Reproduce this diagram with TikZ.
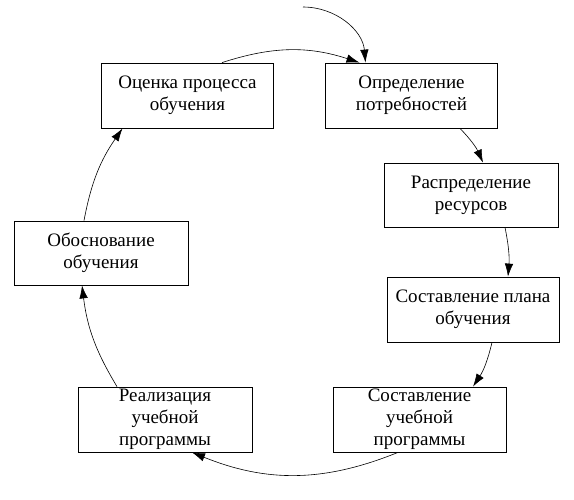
\documentclass[tikz,border=0pt]{standalone}
\usepackage{fontspec}
\setmainfont{Liberation Serif}
\usepackage{tikz}
\usetikzlibrary{arrows.meta}
\usetikzlibrary{positioning}
\tikzset{
    stage/.style={draw=black, line width=0.8pt, fill=white, align=center,
        minimum width=172pt, minimum height=65pt, inner sep=0pt,
        font=\fontsize{19}{22}\selectfont},
    flow/.style={draw=black, line width=0.6pt, ->},
}
\tikzset{>={Latex[length=13pt,width=8.5pt]}}

\begin{document}
\begin{tikzpicture}[x=1pt,y=1pt]
\useasboundingbox (0,0) rectangle (574,-499);

\node [stage] (ocenka) at (187.5,-95.5) {Оценка процесса\\обучения};
\node [stage] (opred) at (411.5,-95.5) {Определение\\потребностей};
\node [stage, minimum width=174pt, minimum height=64pt] (raspr) at (471,-195) {Распределение\\ресурсов};
\node [stage] (plan) at (473,-309.5) {Составление плана\\обучения};
\node [stage, minimum width=174pt, minimum height=64pt] (obosn) at (101,-253) {Обоснование\\обучения};
\node [stage, minimum width=174pt] (real) at (165,-419.5) {Реализация\\учебной\\программы};
\node [stage, minimum width=173pt] (sostav) at (419.5,-419.5) {Составление\\учебной\\программы};

\coordinate (start) at (303,-7);

\draw [flow] (start) to[out=0,in=95] ([xshift=-46pt]opred.north);
\draw [flow] ([xshift=34.5pt]ocenka.north) to[bend left=18] ([xshift=-52pt]opred.north);
\draw [flow] ([xshift=48.5pt]opred.south) to[bend left=10] ([xshift=12pt]raspr.north);
\draw [flow] ([xshift=34pt]raspr.south) to[bend left=8] ([xshift=35pt]plan.north);
\draw [flow] ([xshift=19pt]plan.south) to[bend left=10] ([xshift=53.5pt]sostav.north);
\draw [flow] ([xshift=-21.5pt]sostav.south) to[bend left=22] ([xshift=27pt]real.south);
\draw [flow] ([xshift=-48pt]real.north) to[bend left=12] ([xshift=-19pt]obosn.south);
\draw [flow] ([xshift=-17pt]obosn.north) to[bend left=12] ([xshift=-65pt]ocenka.south);
\end{tikzpicture}
\end{document}
